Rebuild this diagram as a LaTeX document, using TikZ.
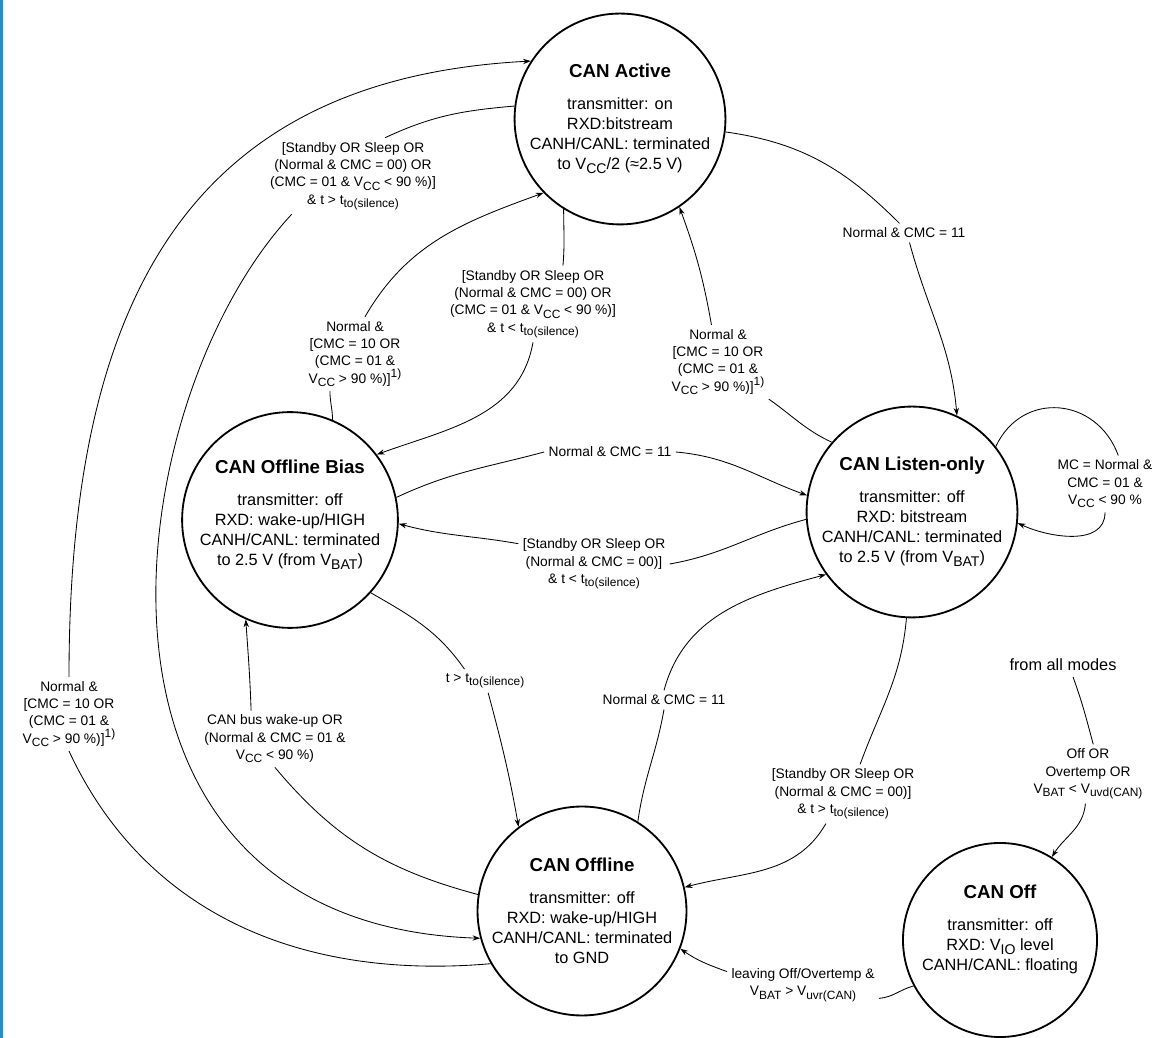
\documentclass[tikz,border=0pt]{standalone}
\usepackage{fontspec}
\setmainfont{Liberation Sans}
\usetikzlibrary{arrows.meta}

\definecolor{borderblue}{RGB}{40,140,200}
\newcommand{\statename}[1]{{\fontsize{13.3}{16}\selectfont\bfseries #1}}
% lowered and raised indices, for the state texts and for the conditions
\newcommand{\ssub}[1]{\raisebox{-0.45ex}{\fontsize{10}{10}\selectfont #1}}
\newcommand{\csub}[1]{\raisebox{-0.45ex}{\fontsize{8.5}{9}\selectfont #1}}
\newcommand{\csup}[1]{\raisebox{0.75ex}{\fontsize{8.5}{9}\selectfont #1}}

\tikzset{
	canstate/.style={circle, draw, line width=1.3pt, minimum size=5.1cm, inner sep=0pt, align=center, font=\fontsize{11.6}{14.2}\selectfont},
	cond/.style={align=center, inner sep=3pt, font=\fontsize{9.8}{12.3}\selectfont},
	seg/.style={line width=0.6pt},
	trans/.style={seg, -{Stealth[length=5.5pt, width=3.8pt]}},
}

\begin{document}
\begin{tikzpicture}[x=0.025cm, y=0.025cm]
		
		\useasboundingbox (0,0) rectangle (1170,1038);
		\fill[borderblue] (0,0) rectangle (3,1038);
		
		% Define the states
		\node[canstate] (active) at (620,919) {\statename{CAN Active}\\[8.5pt]transmitter: on\\RXD:bitstream\\CANH/CANL: terminated\\to V\ssub{CC}/2 (≈2.5 V)};
		\node[canstate] (bias) at (290,518) {\statename{CAN Offline Bias}\\[8.5pt]transmitter: off\\RXD: wake-up/HIGH\\CANH/CANL: terminated\\to 2.5 V (from V\ssub{BAT})\\[-4pt]\mbox{}};
		\node[canstate] (listen) at (912,526) {\statename{CAN Listen-only}\\[8.5pt]transmitter: off\\RXD: bitstream\\CANH/CANL: terminated\\to 2.5 V (from V\ssub{BAT})};
		\node[canstate] (offline) at (582,127) {\statename{CAN Offline}\\[8.5pt]transmitter: off\\RXD: wake-up/HIGH\\CANH/CANL: terminated\\to GND};
		\node[canstate, minimum size=4.85cm] (off) at (1000,98) {\statename{CAN Off}\\[8.5pt]transmitter: off\\RXD: V\ssub{IO} level\\CANH/CANL: floating\\[2.8pt]\mbox{}};
		
		% Conditions on the transitions
		\node[cond] (L1) at (69,324) {Normal \&\\{[}CMC = 10 OR\\(CMC = 01 \&\\V\csub{CC} > 90 \%)]\csup{1)}};
		\node[cond] (L2) at (353,862) {{[}Standby OR Sleep OR\\(Normal \& CMC = 00) OR\\(CMC = 01 \& V\csub{CC} < 90 \%)]\\\& t > t\csub{to(silence)}};
		\node[cond] (L3) at (355,684) {Normal \&\\{[}CMC = 10 OR\\(CMC = 01 \&\\V\csub{CC} > 90 \%)]\csup{1)}};
		\node[cond] (L4) at (533,734) {{[}Standby OR Sleep OR\\(Normal \& CMC = 00) OR\\(CMC = 01 \& V\csub{CC} < 90 \%)]\\\& t < t\csub{to(silence)}};
		\node[cond] (L5) at (904,805) {Normal \& CMC = 11};
		\node[cond] (L6) at (718,676) {Normal \&\\{[}CMC = 10 OR\\(CMC = 01 \&\\V\csub{CC} > 90 \%)]\csup{1)}};
		\node[cond] (L7) at (1105,554) {MC = Normal \&\\CMC = 01 \&\\V\csub{CC} < 90 \%};
		\node[cond] (L8) at (610,586) {Normal \& CMC = 11};
		\node[cond] (L9) at (594,474) {{[}Standby OR Sleep OR\\(Normal \& CMC = 00)]\\\& t < t\csub{to(silence)}};
		\node[cond] (L10) at (485,357) {t > t\csub{to(silence)}};
		\node[cond] (L11) at (275,299) {CAN bus wake-up OR\\(Normal \& CMC = 01 \&\\V\csub{CC} < 90 \%)};
		\node[cond] (L12) at (664,338) {Normal \& CMC = 11};
		\node[cond] (L13) at (843,244) {{[}Standby OR Sleep OR\\(Normal \& CMC = 00)]\\\& t > t\csub{to(silence)}};
		\node[cond] (L14) at (1088,264) {Off OR\\Overtemp OR\\V\csub{BAT} < V\csub{uvd(CAN)}};
		\node[cond] (L15) at (803,53) {leaving Off/Overtemp \&\\V\csub{BAT} > V\csub{uvr(CAN)}};
		\node[font=\fontsize{11.6}{14.2}\selectfont, inner sep=4pt] (allmodes) at (1063,373) {from all modes};
		
		% Transitions into CAN Active
		\draw[seg] (offline.210) to[out=185, in=-65] (L1.south);
		\draw[trans] (L1.north) .. controls +(90:380) and +(183:340) .. (active.147);
		\draw[seg] (bias.67) to[out=90, in=-90] (L3.-124);
		\draw[trans] (L3.75) to[out=60, in=200] (active.224);
		\draw[seg] (listen.139) to[out=155, in=-35] (L6.south east);
		\draw[trans] (L6.100) to[out=100, in=-70] (active.304);
		
		% Transitions out of CAN Active
		\draw[seg] (active.173) to[out=185, in=25] (L2.50);
		\draw[trans] (L2.212) .. controls +(227:256) and +(178:432) .. (offline.195);
		\draw[seg] (active.238) to[out=-90, in=85] (L4.52);
		\draw[trans] (L4.south) to[out=-100, in=20] (bias.37);
		\draw[seg] (active.353) to[out=-8, in=135] (L5.115);
		\draw[trans] (L5.-60) to[out=-75, in=95] (listen.65);
		
		% Listen-only and Offline Bias
		\draw[seg] (listen.38) to[out=65, in=110, looseness=1.3] (L7.65);
		\draw[trans] (L7.south) to[out=-90, in=-25] (listen.-6);
		\draw[seg] (bias.12) to[out=25, in=195] (L8.west);
		\draw[trans] (L8.east) to[out=-5, in=160] (listen.171);
		\draw[seg] (listen.184) to[out=195, in=10] (L9.east);
		\draw[trans] (L9.165) to[out=170, in=-15] (bias.-2);
		
		% Transitions round CAN Offline
		\draw[seg] (bias.318) to[out=-30, in=125] (L10.150);
		\draw[trans] (L10.-75) to[out=-75, in=100] (offline.127);
		\draw[seg] (offline.171) to[out=165, in=-50] (L11.south);
		\draw[trans] (L11.130) to[out=92, in=-86] (bias.246);
		\draw[seg] (offline.58) to[out=82, in=-100] (L12.south);
		\draw[trans] (L12.north) to[out=75, in=195] (listen.216);
		\draw[seg] (listen.267) to[out=-95, in=70] (L13.60);
		\draw[trans] (L13.-120) to[out=-120, in=15] (offline.13);
		
		% CAN Off
		\draw[seg] (allmodes.-50) to[out=-70, in=105] (L14.80);
		\draw[trans] (L14.-95) to[out=-95, in=58] (off.58);
		\draw[seg] (off.208) to[out=195, in=5] (L15.-10);
		\draw[trans] (L15.170) to[out=160, in=-35] (offline.339);
		
	\end{tikzpicture}
\end{document}
